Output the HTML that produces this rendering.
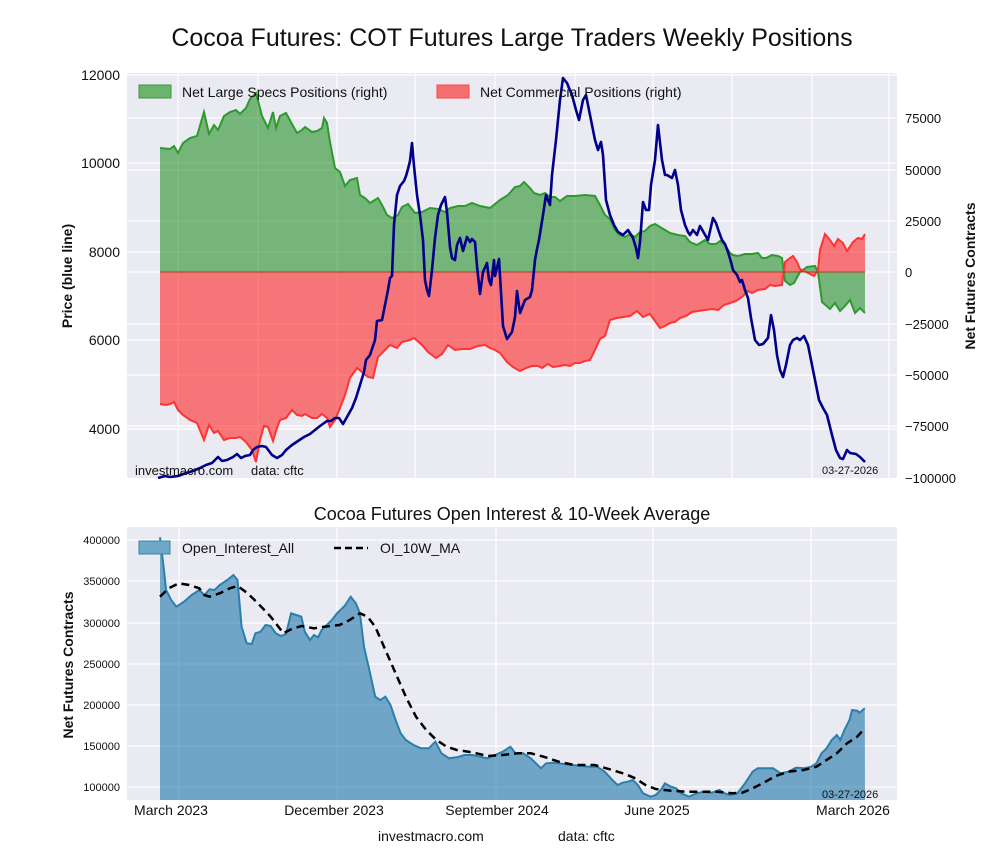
<!DOCTYPE html>
<html><head><meta charset="utf-8"><style>
body{margin:0;background:#fff;width:1000px;height:860px;overflow:hidden;font-family:"Liberation Sans",sans-serif}
svg text{font-family:"Liberation Sans",sans-serif;fill:#111}
</style></head><body>
<svg id="s" width="1000" height="860" xmlns="http://www.w3.org/2000/svg">
<rect width="1000" height="860" fill="#fff"/>
<text x="512" y="46" font-size="25" text-anchor="middle">Cocoa Futures: COT Futures Large Traders Weekly Positions</text>
<rect x="127" y="73" width="770" height="405" fill="#eaeaf2"/>
<g id="tg" stroke="#fff" stroke-width="1.2"></g>
<g id="tp"></g>
<text x="135" y="475" font-size="13">investmacro.com</text>
<text x="251" y="475" font-size="13">data: cftc</text>
<text x="822" y="474" font-size="11">03-27-2026</text>
<rect x="139" y="85" width="32" height="13" fill="#6cb46c" stroke="#3a9a3a"/>
<text x="182" y="97" font-size="14">Net Large Specs Positions (right)</text>
<rect x="437" y="85" width="32" height="13" fill="#f47070" stroke="#f44"/>
<text x="480" y="97" font-size="14">Net Commercial Positions (right)</text>
<g font-size="14" text-anchor="end">
<text x="120" y="80">12000</text><text x="120" y="168">10000</text><text x="120" y="257">8000</text><text x="120" y="345">6000</text><text x="120" y="434">4000</text></g>
<g font-size="13">
<text x="905" y="123">75000</text><text x="905" y="175">50000</text><text x="905" y="226">25000</text><text x="905" y="277">0</text><text x="905" y="329">−25000</text><text x="905" y="380">−50000</text><text x="905" y="431">−75000</text><text x="905" y="483">−100000</text></g>
<text transform="translate(72,276) rotate(-90)" font-size="14" font-weight="bold" text-anchor="middle">Price (blue line)</text>
<text transform="translate(975,276) rotate(-90)" font-size="14" font-weight="bold" text-anchor="middle">Net Futures Contracts</text>

<text x="512" y="520" font-size="18" text-anchor="middle">Cocoa Futures Open Interest &amp; 10-Week Average</text>
<rect x="127" y="527" width="770" height="273" fill="#eaeaf2"/>
<g id="bg" stroke="#fff" stroke-width="1.2"></g>
<g id="bp"></g>
<text x="822" y="798" font-size="11">03-27-2026</text>
<rect x="139" y="541" width="31" height="13" fill="#6fa8c6" stroke="#3a85ab"/>
<text x="182" y="553" font-size="14">Open_Interest_All</text>
<line x1="334" y1="548" x2="368" y2="548" stroke="#000" stroke-width="2.5" stroke-dasharray="7,4"/>
<text x="380" y="553" font-size="14">OI_10W_MA</text>
<g font-size="11" text-anchor="end">
<text x="120" y="544">400000</text><text x="120" y="585">350000</text><text x="120" y="627">300000</text><text x="120" y="668">250000</text><text x="120" y="709">200000</text><text x="120" y="750">150000</text><text x="120" y="791">100000</text></g>
<g font-size="14" text-anchor="middle">
<text x="171" y="815">March 2023</text><text x="334" y="815">December 2023</text><text x="497" y="815">September 2024</text><text x="657" y="815">June 2025</text><text x="853" y="815">March 2026</text></g>
<text transform="translate(73,665) rotate(-90)" font-size="14" font-weight="bold" text-anchor="middle">Net Futures Contracts</text>
<text x="378" y="841" font-size="14">investmacro.com</text>
<text x="558" y="841" font-size="14">data: cftc</text>
</svg>
<script>
var NS="http://www.w3.org/2000/svg";
function el(p,t,a){var e=document.createElementNS(NS,t);for(var k in a)e.setAttribute(k,a[k]);document.getElementById(p).appendChild(e);return e;}
[75,163,252,340,429,118,170,221,272,324,375,426].forEach(function(y){el("tg","line",{x1:127,x2:897,y1:y,y2:y});});
[178,258,337,415,495,575,653,732,812,889].forEach(function(x){el("tg","line",{x1:x,x2:x,y1:73,y2:478});});
[540,581,623,664,705,746,787].forEach(function(y){el("bg","line",{x1:127,x2:897,y1:y,y2:y});});
[179,337,496,653,811].forEach(function(x){el("bg","line",{x1:x,x2:x,y1:527,y2:800});});
function pts(a){var s=[];for(var i=0;i<a.length;i+=2)s.push(a[i]+","+a[i+1]);return s.join(" ");}
var G=[160,148,170,149,174,146,178,153,183,143,190,138,197,136,204,112,209,134,214,125,218,130,224,116,230,112,236,110,240,114,246,108,250,99,256,93,262,116,268,128,273,112,276,128,280,116,286,113,292,124,297,133,302,130,305,127,312,132,317,131,322,128,324,118,327,123,330,142,335,168,340,172,345,186,350,180,357,178,360,195,365,198,370,203,378,198,382,205,387,215,392,218,398,215,402,207,408,204,415,213,422,212,430,208,438,209,445,212,450,208,458,206,465,206,472,203,480,206,490,208,500,200,508,195,515,187,520,186,524,182,530,188,534,193,540,195,545,193,550,197,555,197,560,201,567,196,575,196,585,195,595,196,600,205,605,215,610,219,615,230,620,235,625,237,630,234,635,237,640,232,645,231,650,226,655,224,665,230,670,233,678,235,685,236,690,242,697,245,705,240,710,244,716,244,720,241,725,245,730,253,733,255,738,256,745,254,752,254,758,253,762,258,766,258,772,255,778,256,782,258,785,281,790,285,794,283,800,272,807,267,815,266,818,272,822,302,830,309,835,303,840,311,845,306,850,300,855,313,860,308,865,313];
var R=[160,404,166,405,170,404,174,402,178,410,183,415,190,420,197,423,204,440,209,425,214,433,218,431,224,440,230,438,236,438,240,437,246,442,252,450,256,462,260,440,264,426,268,427,273,441,277,428,280,420,286,418,292,410,297,415,302,416,305,414,312,418,317,418,322,414,327,418,330,427,335,420,340,408,345,395,350,378,357,368,362,372,368,377,373,378,378,357,385,350,390,345,397,348,402,342,410,340,414,338,422,345,428,352,436,358,442,354,448,345,455,350,462,349,470,349,478,346,485,345,490,348,495,350,500,353,507,362,513,367,520,371,526,368,532,366,538,366,542,368,548,364,553,367,560,366,565,365,570,366,575,363,580,363,585,361,590,360,595,350,600,339,605,336,610,320,617,318,623,317,630,316,637,311,643,317,650,314,655,321,660,328,665,326,670,323,675,322,680,318,686,316,692,312,698,311,705,310,712,309,718,310,724,305,730,303,736,301,742,297,748,291,752,293,758,290,765,289,770,285,775,286,782,285,785,262,790,258,793,256,797,262,800,269,806,272,814,276,818,270,820,250,825,234,830,240,834,246,838,239,843,243,847,251,853,242,858,238,862,239,865,234];
var B=[158,478,165,476,170,477,178,476,186,473,193,471,200,468,206,465,212,463,218,457,222,461,227,460,233,457,237,454,241,458,245,456,250,455,253,450,257,447,262,446,266,447,272,455,277,458,282,455,286,450,292,445,298,441,304,437,310,434,315,430,320,426,327,421,331,421,335,418,339,418,343,424,347,417,352,408,356,398,360,385,364,372,366,360,370,355,375,340,377,321,382,320,386,300,388,290,390,278,392,276,394,225,397,195,400,186,404,181,406,176,408,169,410,161,412,143,414,166,417,195,420,215,423,240,425,280,427,290,429,296,432,270,435,238,438,215,441,205,445,197,447,212,450,247,452,258,455,260,457,245,460,238,463,251,467,237,470,242,472,239,475,242,477,266,480,294,483,272,487,263,489,280,491,285,494,260,495,276,499,259,503,326,507,339,512,332,515,317,517,291,520,313,525,300,530,297,532,290,535,260,537,249,539,240,543,215,546,195,548,200,550,205,552,175,556,140,560,100,563,78,567,83,572,95,576,110,579,120,583,100,586,95,590,115,595,140,598,150,601,142,603,155,606,200,610,215,614,225,618,232,623,235,628,230,633,238,636,248,638,258,640,242,643,202,646,210,649,210,651,185,655,160,658,125,662,160,665,175,667,175,672,178,675,170,678,185,681,210,685,225,688,232,690,235,693,230,697,235,700,226,704,233,708,240,713,218,716,223,719,232,722,240,725,244,728,252,731,262,733,270,737,275,740,282,742,280,745,290,748,298,751,318,755,340,759,345,763,344,768,338,771,315,774,330,777,355,780,370,783,377,786,365,790,345,793,340,797,338,800,340,804,336,808,345,811,360,815,380,819,400,823,408,827,415,832,435,836,450,840,458,843,459,847,450,850,453,856,454,860,457,865,462];
el("tp","polygon",{points:pts(G)+" 865,272 160,272",fill:"rgba(0,128,0,0.5)",stroke:"none"});
el("tp","polyline",{points:pts(G),fill:"none",stroke:"#2e9a2e","stroke-width":2});
el("tp","polygon",{points:pts(R)+" 865,272 160,272",fill:"rgba(255,0,0,0.5)",stroke:"none"});
el("tp","polyline",{points:pts(R),fill:"none",stroke:"#f33","stroke-width":2});
el("tp","line",{x1:160,x2:865,y1:272,y2:272,stroke:"#a04020","stroke-width":1});
el("tp","polyline",{points:pts(B),fill:"none",stroke:"#00008b","stroke-width":2.6,"stroke-linejoin":"round"});
function tr(a){var o=[];for(var i=0;i<a.length;i+=2){o.push((160+(a[i]-78)*0.51).toFixed(1));o.push((500+a[i+1]/3).toFixed(1));}return o;}
var OI=tr([78,112,85,200,90,270,100,300,110,320,125,305,140,285,155,270,165,285,175,268,185,270,195,255,210,240,222,225,230,240,238,380,248,430,258,432,265,400,275,395,285,375,295,378,305,400,315,408,325,402,335,340,345,345,355,350,362,395,372,420,380,405,388,412,395,390,405,375,415,360,425,340,440,318,452,290,462,310,470,340,478,440,490,520,500,590,510,600,520,590,530,615,540,660,550,700,560,720,575,735,590,745,605,745,618,725,630,760,645,775,660,772,675,765,690,765,705,770,720,775,735,765,750,755,765,740,775,760,790,760,805,775,815,790,825,805,835,790,850,788,870,792,885,795,900,797,920,800,935,800,950,815,965,840,975,855,985,848,995,845,1005,840,1015,855,1025,880,1040,890,1050,885,1060,870,1068,850,1080,860,1090,865,1100,880,1115,890,1130,880,1145,875,1160,878,1175,870,1185,880,1195,885,1210,880,1225,850,1240,815,1250,805,1265,805,1280,805,1295,820,1310,815,1325,803,1340,805,1355,800,1365,790,1375,760,1385,745,1395,720,1405,705,1412,720,1420,690,1430,660,1435,630,1445,632,1450,638,1460,625]);
var MA=tr([78,290,95,265,115,250,135,255,155,265,165,285,175,290,195,280,215,265,230,258,250,280,270,310,295,350,320,400,335,388,355,378,380,385,400,380,430,375,450,360,470,340,485,350,500,380,520,450,540,520,560,590,580,650,600,690,620,720,640,740,660,750,690,757,720,768,750,765,780,760,805,760,830,770,860,785,890,795,930,795,960,808,990,822,1010,835,1030,855,1050,867,1080,872,1110,875,1140,875,1170,875,1200,880,1220,878,1240,865,1260,850,1285,828,1310,815,1340,810,1365,800,1385,780,1405,760,1425,730,1445,710,1460,685]);
el("bp","polygon",{points:pts(OI)+" 865,800 160,800",fill:"rgba(31,119,170,0.6)",stroke:"none"});
el("bp","polyline",{points:pts(OI),fill:"none",stroke:"#2a7fab","stroke-width":2});
el("bp","polyline",{points:pts(MA),fill:"none",stroke:"#000","stroke-width":2.5,"stroke-dasharray":"8,5"});
</script>
</body></html>
